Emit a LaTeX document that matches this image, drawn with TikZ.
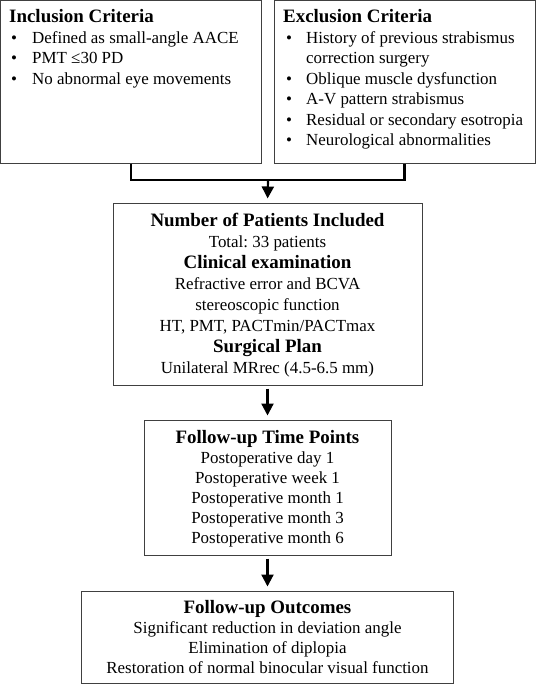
\documentclass[tikz,border=0pt]{standalone}
\usepackage{fontspec}
\setmainfont{Liberation Serif}
\usetikzlibrary{arrows.meta}
\newcommand\hdtitle[1]{{\fontsize{19}{20}\selectfont\bfseries #1}}
\begin{document}
\frenchspacing
\begin{tikzpicture}[x=1bp,y=-1bp,
  box/.style={draw=black!75, line width=1bp, inner sep=0pt, rectangle},
  txt/.style={inner sep=0pt, font=\fontsize{17}{20.5}\selectfont},
  conn/.style={line width=2.2bp, black, line join=miter},
  arr/.style={conn, -{Triangle[width=12bp,length=12bp]}, shorten >=4bp}]
\useasboundingbox (0,0) rectangle (536,685);
% boxes
\node[box, minimum width=260bp, minimum height=162bp] (incl) at (131,82) {};
\node[box, minimum width=261bp, minimum height=162bp] (excl) at (404.5,82) {};
\node[box, minimum width=309bp, minimum height=182bp] (pat) at (267.5,294) {};
\node[box, minimum width=247bp, minimum height=135bp] (fut) at (267.5,487.5) {};
\node[box, minimum width=371bp, minimum height=92bp] (out) at (267.5,637) {};
% texts
\node[txt, anchor=base west] (incltxt) at (9,23) {\begin{tabular}[t]{@{}p{23bp}@{}l@{}}
\multicolumn{2}{@{}l@{}}{\hdtitle{Inclusion Criteria}}\\
\hspace{2bp}\textbullet & Defined as small-angle AACE\\
\hspace{2bp}\textbullet & PMT ≤30 PD\\
\hspace{2bp}\textbullet & No abnormal eye movements
\end{tabular}};
\node[txt, anchor=base west] (excltxt) at (283,23) {\begin{tabular}[t]{@{}p{23bp}@{}l@{}}
\multicolumn{2}{@{}l@{}}{\hdtitle{Exclusion Criteria}}\\
\hspace{3bp}\textbullet & History of previous strabismus\\
 & correction surgery\\
\hspace{3bp}\textbullet & Oblique muscle dysfunction\\
\hspace{3bp}\textbullet & A-V pattern strabismus\\
\hspace{3bp}\textbullet & Residual or secondary esotropia\\
\hspace{3bp}\textbullet & Neurological abnormalities
\end{tabular}};
\node[txt, anchor=base, font=\fontsize{17}{21.1}\selectfont] (pattxt) at (267.5,226) {\begin{tabular}[t]{@{}c@{}}
\hdtitle{Number of Patients Included}\\
Total: 33 patients\\
\hdtitle{Clinical examination}\\
Refractive error and BCVA\\
stereoscopic function\\
HT, PMT, PACTmin/PACTmax\\
\hdtitle{Surgical Plan}\\
Unilateral MRrec (4.5-6.5 mm)
\end{tabular}};
\node[txt, anchor=base, font=\fontsize{17}{20.1}\selectfont] (futtxt) at (267.5,443) {\begin{tabular}[t]{@{}c@{}}
\hdtitle{Follow-up Time Points}\\
Postoperative day 1\\
Postoperative week 1\\
Postoperative month 1\\
Postoperative month 3\\
Postoperative month 6
\end{tabular}};
\node[txt, anchor=base, font=\fontsize{17}{20.1}\selectfont] (outtxt) at (267.5,613) {\begin{tabular}[t]{@{}c@{}}
\hdtitle{Follow-up Outcomes}\\
Significant reduction in deviation angle\\
Elimination of diplopia\\
Restoration of normal binocular visual function
\end{tabular}};
% connectors
\coordinate (join) at (268,180);
\draw[conn] (incl.south) |- (join) -| (excl.south);
\draw[arr] (join) -- (pat.north);
\draw[arr, shorten <=3bp] (pat.south) -- (fut.north);
\draw[arr, shorten <=3bp] (fut.south) -- (out.north);
\end{tikzpicture}
\end{document}
